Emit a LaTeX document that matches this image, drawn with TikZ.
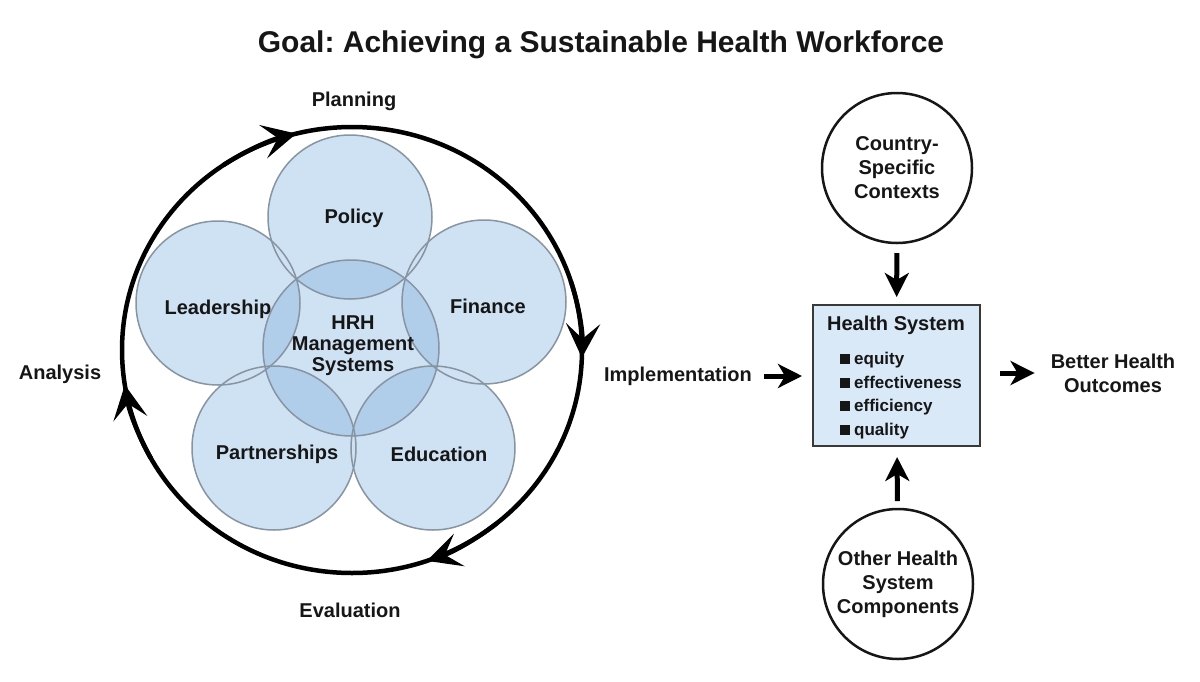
\documentclass[tikz,border=0pt]{standalone}
\usepackage{fontspec}
\setmainfont{Liberation Sans}
\usetikzlibrary{arrows.meta}
\definecolor{vfill}{RGB}{207,226,243}
\definecolor{vdark}{RGB}{176,205,234}
\definecolor{vline}{RGB}{135,148,162}
\definecolor{boxfill}{RGB}{218,233,248}
\definecolor{ink}{RGB}{22,22,22}
\frenchspacing
\begin{document}
\begin{tikzpicture}[x=1pt,y=-1pt,
  lbl/.style={font=\bfseries\fontsize{20}{20}\selectfont, text=ink, align=center, inner sep=0pt},
  lbltall/.style={font=\bfseries\fontsize{20}{24}\selectfont, text=ink, align=center, inner sep=0pt},
  hrhlbl/.style={font=\bfseries\fontsize{20}{21}\selectfont, text=ink, align=center, inner sep=0pt},
  item/.style={font=\bfseries\fontsize{17}{17}\selectfont, text=ink, anchor=base west, inner sep=0pt},
  venn/.style={draw=vline, line width=1.5pt},
  cyc/.style={draw=black, line width=4.5pt},
  cyctip/.style={cyc, -{Stealth[length=34pt,width=34pt,inset=15pt]}},
  bigarrow/.style={draw=black, line width=5pt, -{Stealth[length=24pt,width=24pt,inset=7pt]}},
  ctxcircle/.style={circle, draw=ink, line width=2.5pt, minimum size=150pt, inner sep=0pt, outer sep=0pt,
    font=\bfseries\fontsize{20}{24}\selectfont, text=ink, align=center},
  hsbox/.style={rectangle, draw=ink!85, line width=2.5pt, fill=boxfill, minimum width=167pt, minimum height=141pt, outer sep=0pt}
]
\useasboundingbox (0,0) rectangle (1200,681);

% title
\node[font=\bfseries\fontsize{30}{30}\selectfont, text=ink, inner sep=0pt] (title) at (601,45) {Goal: Achieving a Sustainable Health Workforce};

% venn centres
\coordinate (cp) at (350,217);
\coordinate (cl) at (218,303);
\coordinate (cf) at (484,302);
\coordinate (cpa) at (274,448);
\coordinate (ce) at (433,448);
\coordinate (cc) at (351,348);

% fills
\foreach \c in {cp,cl,cf,cpa,ce} {\fill[vfill] (\c) circle[radius=82];}
\fill[vfill] (cc) circle[radius=88];
\begin{scope}
  \clip (cc) circle[radius=88];
  \foreach \c in {cp,cl,cf,cpa,ce} {\fill[vdark] (\c) circle[radius=82];}
\end{scope}
% outlines
\foreach \c in {cp,cl,cf,cpa,ce} {\draw[venn] (\c) circle[radius=82];}
\draw[venn] (cc) circle[radius=88];

% venn labels
\node[lbl] (policy) at (354,218) {Policy};
\node[lbl] (leader) at (218,309) {Leadership};
\node[lbl] (finance) at (488,306) {Finance};
\node[lbl] (partner) at (277,454) {Partnerships};
\node[lbl] (educ) at (439,454) {Education};
\node[hrhlbl] (hrh) at (353,346) {HRH\\Management\\Systems};

% cycle
\coordinate (cyc0) at (352,350);
\draw[cyc] (cyc0) ellipse[x radius=230, y radius=223];
\draw[cyctip] (cyc0) ++(236:230 and 223) arc[start angle=236, end angle=256, x radius=230, y radius=223];
\draw[cyctip] (cyc0) ++(-18:230 and 223) arc[start angle=-18, end angle=2, x radius=230, y radius=223];
\draw[cyctip] (cyc0) ++(51:230 and 223) arc[start angle=51, end angle=71, x radius=230, y radius=223];
\draw[cyctip] (cyc0) ++(151:230 and 223) arc[start angle=151, end angle=171, x radius=230, y radius=223];

% cycle labels
\node[lbl] (planning) at (354,101) {Planning};
\node[lbl] (analysis) at (60,374) {Analysis};
\node[lbl] (evaluation) at (350,610) {Evaluation};
\node[lbl] (impl) at (678,376) {Implementation};

% right side
\node[ctxcircle] (ctx) at (897,168) {Country-\\Specific\\Contexts};
\node[ctxcircle] (oth) at (898,584) {Other Health\\System\\Components};
\node[hsbox] (hs) at (896.5,375.5) {};
\node[lbl] (hstitle) at (896,325) {Health System};
\node[item] (i1) at (840,364) {\rule{10pt}{10pt}\hspace{4pt}equity};
\node[item] (i2) at (840,388) {\rule{10pt}{10pt}\hspace{4pt}effectiveness};
\node[item] (i3) at (840,411) {\rule{10pt}{10pt}\hspace{4pt}efficiency};
\node[item] (i4) at (840,435) {\rule{10pt}{10pt}\hspace{4pt}quality};
\node[lbltall] (better) at (1113,373) {Better Health\\Outcomes};

% arrows
\draw[bigarrow, shorten <=10pt, shorten >=8pt] (ctx) -- (hs);
\draw[bigarrow, shorten <=8pt, shorten >=11pt] (oth) -- (hs);
\draw[bigarrow, shorten <=12pt, shorten >=11pt] (impl) -- (hs.west |- impl);
\draw[bigarrow, shorten <=20pt, shorten >=16pt] (hs.east |- better) -- (better);
\end{tikzpicture}
\end{document}
